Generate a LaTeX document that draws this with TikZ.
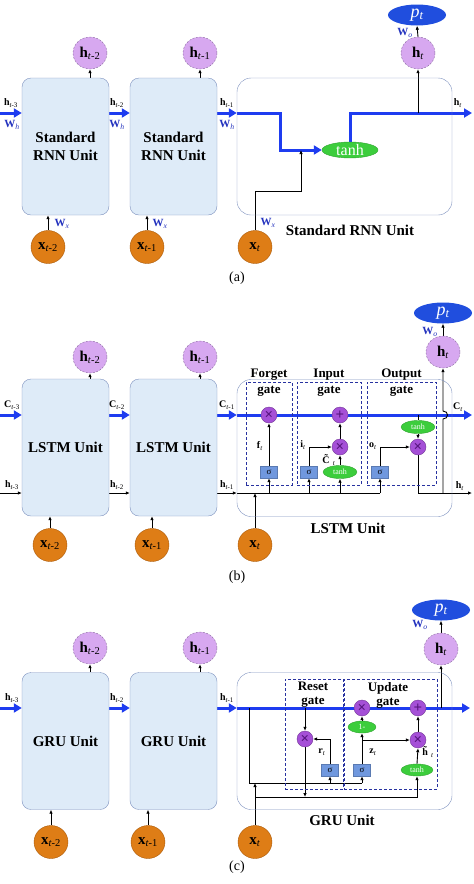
\documentclass[tikz,border=0pt]{standalone}
\usepackage{fontspec}
\setmainfont{Liberation Serif}
\usetikzlibrary{arrows.meta,shapes.geometric}
\definecolor{unitfill}{RGB}{222,235,248}
\definecolor{unitline}{RGB}{125,145,190}
\definecolor{hfill}{RGB}{215,168,240}
\definecolor{hline}{RGB}{140,110,160}
\definecolor{xfill}{RGB}{222,125,22}
\definecolor{xline}{RGB}{170,90,10}
\definecolor{pfill}{RGB}{32,78,222}
\definecolor{flow}{RGB}{30,60,240}
\definecolor{opfill}{RGB}{165,80,215}
\definecolor{opink}{RGB}{85,20,125}
\definecolor{gateline}{RGB}{40,50,160}
\definecolor{sigfill}{RGB}{112,152,222}
\definecolor{tanhfill}{RGB}{60,205,60}
\definecolor{wblue}{RGB}{35,50,190}
\pgfdeclarelayer{bg}
\pgfsetlayers{bg,main}
\newcommand{\vt}[2]{\textbf{#1}\textsubscript{\textit{t}#2}}
\newcommand{\wt}[1]{\textbf{W}\textsubscript{\textit{#1}}}
\newcommand{\fs}[2]{\fontsize{#1}{#2}\selectfont}
\tikzset{
  unit/.style={draw=unitline, fill=unitfill, rounded corners=9pt, minimum width=87pt,
    minimum height=137pt, align=center, font=\fs{15}{18}\bfseries},
  bigunit/.style={draw=unitline, rounded corners=14pt, minimum width=215pt, minimum height=137pt},
  hcirc/.style={ellipse, draw=hline, dash pattern=on 2pt off 1.5pt, fill=hfill,
    minimum width=34pt, minimum height=32pt, inner sep=0pt, font=\fs{15}{15}},
  xcirc/.style={ellipse, draw=xline, fill=xfill, minimum width=34pt, minimum height=33pt,
    inner sep=0pt, font=\fs{15}{15}},
  pnode/.style={ellipse, fill=pfill, text=white, minimum width=58pt, minimum height=21pt,
    inner sep=0pt, font=\fs{18}{18}\itshape},
  op/.style={circle, fill=opfill, draw=opfill!70!black, minimum size=16pt, inner sep=0pt,
    text=opink, font=\fs{15}{15}\bfseries},
  sig/.style={fill=sigfill, draw=sigfill!80!black, minimum width=17pt, minimum height=12pt,
    inner sep=0pt, font=\fs{9}{9}},
  tanhs/.style={ellipse, fill=tanhfill, draw=tanhfill!80!black, text=white, minimum width=34pt,
    minimum height=13pt, inner sep=0pt, font=\fs{8}{8}},
  tanhbig/.style={tanhs, minimum width=56pt, minimum height=16pt, font=\fs{16}{16}},
  gatebox/.style={draw=gateline, dash pattern=on 3pt off 2pt, line width=0.9pt, inner sep=0pt},
  gtitle/.style={align=center, inner sep=0pt},
  lbl/.style={font=\fs{10}{10}, inner sep=0pt},
  wlbl/.style={font=\fs{11}{11}, text=wblue, inner sep=0pt},
  unitcap/.style={font=\fs{15}{15}\bfseries, inner sep=0pt},
  blueline/.style={flow, line width=3pt},
  bluearrow/.style={blueline, -{Triangle[length=8pt,width=9pt]}},
  thinline/.style={black, line width=0.9pt},
  thinarrow/.style={thinline, -{Latex[length=4pt,width=3.5pt]}}
}
\begin{document}
\begin{tikzpicture}[x=1pt, y=-1pt]
\useasboundingbox (0,0) rectangle (474,884);

% (a) standard RNN
\node[unit] (a1) at (65.5,146.5) {Standard\\RNN Unit};
\node[unit] (a2) at (173.5,146.5) {Standard\\RNN Unit};
\node[bigunit] (a3) at (344.5,146.5) {};
\node[hcirc] (ha1) at (90,53) {\vt{h}{-2}};
\node[hcirc] (ha2) at (200,53) {\vt{h}{-1}};
\node[hcirc] (hat) at (418,53) {\vt{h}{}};
\node[pnode] (pa) at (417,15) {p\textsubscript{t}};
\node[xcirc] (xa1) at (48,247) {\vt{x}{-2}};
\node[xcirc] (xa2) at (147,247) {\vt{x}{-1}};
\node[xcirc] (xat) at (255,247) {\vt{x}{}};
\node[tanhbig] (ta) at (350,150) {tanh};
\coordinate (ina) at (0,113);
\coordinate (outa) at (472,113);
\coordinate (ka) at (280,150);
\coordinate (ja) at (301,191);
\node[lbl] (la1) at (11,103) {\vt{h}{-3}};
\node[wlbl] (wa1) at (12,125) {\wt{h}};
\node[lbl] (la2) at (117,103) {\vt{h}{-2}};
\node[wlbl] (wa2) at (117,125) {\wt{h}};
\node[lbl] (la3) at (227,103) {\vt{h}{-1}};
\node[wlbl] (wa3) at (227,125) {\wt{h}};
\node[lbl] (la4) at (458,103) {\vt{h}{}};
\node[wlbl] (wa4) at (405,33) {\wt{o}};
\node[wlbl] (wxa1) at (62,224) {\wt{x}};
\node[wlbl] (wxa2) at (160,224) {\wt{x}};
\node[wlbl] (wxa3) at (268,223) {\wt{x}};
\node[unitcap] (capa) at (350,230) {Standard RNN Unit};
\node[font=\fs{14}{14}] (taga) at (237,278) {(a)};

% (b) LSTM
\node[unit] (b1) at (65.5,447.5) {LSTM Unit};
\node[unit] (b2) at (173.5,447.5) {LSTM Unit};
\node[bigunit] (b3) at (344.5,448) {};
\node[hcirc] (hb1) at (90,357) {\vt{h}{-2}};
\node[hcirc] (hb2) at (200,357) {\vt{h}{-1}};
\node[hcirc] (hbt) at (443,352) {\vt{h}{}};
\node[pnode] (pb) at (443,313) {p\textsubscript{t}};
\node[xcirc] (xb1) at (50,545) {\vt{x}{-2}};
\node[xcirc] (xb2) at (152,545) {\vt{x}{-1}};
\node[xcirc] (xbt) at (255,545) {\vt{x}{}};
\coordinate (cinb) at (0,415);
\coordinate (hinb) at (0,493);
\coordinate (outcb) at (472,415);
\coordinate (outhb) at (472,493);
\node[gatebox, minimum width=46pt, minimum height=103pt] (fg) at (269,433.5) {};
\node[gatebox, minimum width=64pt, minimum height=103pt] (ig) at (329,433.5) {};
\node[gatebox, minimum width=69pt, minimum height=103pt] (og) at (401.5,433.5) {};
\node[gtitle, font=\fs{13}{16}\bfseries] (ftl) at (269,382.5) {Forget\\gate};
\node[gtitle, font=\fs{13}{16}\bfseries] (itl) at (329,382.5) {Input\\gate};
\node[gtitle, font=\fs{13}{16}\bfseries] (otl) at (401.5,382.5) {Output\\gate};
\node[op] (fx) at (269,415) {×};
\node[op] (ip) at (340,415) {+};
\node[op] (ix) at (340,447) {×};
\node[op] (ox) at (418,447) {×};
\node[sig] (sf) at (269,472) {σ};
\node[sig] (si) at (309,472) {σ};
\node[sig] (so) at (380,472) {σ};
\node[tanhs] (tb1) at (340,472) {tanh};
\node[tanhs] (tb2) at (418,427) {tanh};
\node[lbl] (lf) at (260,446) {\vt{f}{}};
\node[lbl] (li) at (303,445) {\vt{i}{}};
\node[lbl] (lc) at (329,460) {\textbf{\~{C}}\textsubscript{\textit{t}}};
\node[lbl] (lo) at (373,446) {\vt{o}{}};
\node[lbl] (lb1) at (12,405) {\vt{C}{-3}};
\node[lbl] (lb2) at (12,485) {\vt{h}{-3}};
\node[lbl] (lb3) at (117,405) {\vt{C}{-2}};
\node[lbl] (lb4) at (117,485) {\vt{h}{-2}};
\node[lbl] (lb5) at (227,405) {\vt{C}{-1}};
\node[lbl] (lb6) at (227,485) {\vt{h}{-1}};
\node[lbl] (lb7) at (458,407) {\vt{C}{}};
\node[lbl] (lb8) at (460,486) {\vt{h}{}};
\node[wlbl] (wb) at (430,332) {\wt{o}};
\node[unitcap] (capb) at (348,528) {LSTM Unit};
\node[font=\fs{14}{14}] (tagb) at (237,577) {(b)};

% (c) GRU
\node[unit] (c1) at (65.5,741) {GRU Unit};
\node[unit] (c2) at (173.5,741) {GRU Unit};
\node[bigunit] (c3) at (344.5,741) {};
\node[hcirc] (hc1) at (90,648) {\vt{h}{-2}};
\node[hcirc] (hc2) at (200,648) {\vt{h}{-1}};
\node[hcirc] (hct) at (441,649) {\vt{h}{}};
\node[pnode] (pc) at (441,610) {p\textsubscript{t}};
\node[xcirc] (xc1) at (51,842) {\vt{x}{-2}};
\node[xcirc] (xc2) at (148,842) {\vt{x}{-1}};
\node[xcirc] (xct) at (255,842) {\vt{x}{}};
\coordinate (hinc) at (0,708);
\coordinate (outc) at (470,708);
\coordinate (gl) at (249,708);
\coordinate (gy) at (249,783);
\coordinate (gx) at (255,797);
\node[gatebox, minimum width=58pt, minimum height=110pt] (rg) at (314,734) {};
\node[gatebox, minimum width=93pt, minimum height=110pt] (ug) at (390.5,734) {};
\node[gtitle, font=\fs{13}{14}\bfseries] (rtl) at (313,695) {Reset\\gate};
\node[gtitle, font=\fs{13}{14}\bfseries] (utl) at (388,695) {Update\\gate};
\node[op] (rx) at (305,739) {×};
\node[op] (ux) at (362,708) {×};
\node[op] (up) at (418,708) {+};
\node[op] (hx) at (418,740) {×};
\node[tanhs, minimum width=28pt, minimum height=12pt] (one) at (362,727) {1-};
\node[sig] (sr) at (330,770) {σ};
\node[sig] (sz) at (362,770) {σ};
\node[tanhs, minimum width=32pt, minimum height=12pt] (tc) at (417,770) {tanh};
\node[lbl] (lr) at (322,752) {\vt{r}{}};
\node[lbl] (lz) at (373,752) {\vt{z}{}};
\node[lbl] (lh) at (428,752) {\textbf{\~{h}}\textsubscript{\textit{t}}};
\node[lbl] (lc1) at (12,698) {\vt{h}{-3}};
\node[lbl] (lc2) at (117,698) {\vt{h}{-2}};
\node[lbl] (lc3) at (227,698) {\vt{h}{-1}};
\node[wlbl] (wc) at (420,625) {\wt{o}};
\node[unitcap] (capc) at (342,820) {GRU Unit};
\node[font=\fs{14}{14}] (tagc) at (237,867) {(c)};

\begin{pgfonlayer}{bg}
% connectors (a)
\draw[bluearrow] (ina) -- (ina -| a1.west);
\draw[bluearrow] (ina -| a1.east) -- (ina -| a2.west);
\draw[bluearrow] (ina -| a2.east) -- (ina -| a3.west);
\draw[bluearrow] (ina -| a3.west) -| (ka) -- (ta.west);
\draw[bluearrow] (ta.north) |- (outa);
\draw[thinarrow] (hat.south |- outa) -- (hat.south);
\draw[thinarrow] (hat.north) -- (pa.south);
\draw[thinarrow] (xat.north) |- (ja) -- (ja |- ta.west);
\foreach \u/\h/\x in {a1/ha1/xa1, a2/ha2/xa2, b1/hb1/xb1, b2/hb2/xb2, c1/hc1/xc1, c2/hc2/xc2} {
  \draw[thinarrow] (\h.south |- \u.north) -- (\h.south);
  \draw[thinarrow] (\x.north) -- (\x.north |- \u.south);
}
% connectors (b)
\draw[bluearrow] (cinb) -- (cinb -| b1.west);
\draw[bluearrow] (cinb -| b1.east) -- (cinb -| b2.west);
\draw[bluearrow] (cinb -| b2.east) -- (cinb -| b3.west);
\draw[thinarrow] (hinb) -- (hinb -| b1.west);
\draw[thinarrow] (hinb -| b1.east) -- (hinb -| b2.west);
\draw[thinarrow] (hinb -| b2.east) -- (hinb -| b3.west);
\draw[bluearrow] (cinb -| b3.west) -- (outcb);
\draw[thinline] (hinb -| b3.west) -- (hinb -| so.south);
\foreach \n in {sf,si,tb1,so}
  \draw[thinarrow] (hinb -| \n.south) -- (\n.south);
\draw[thinarrow] (xbt.north) -- (xbt.north |- hinb);
\draw[thinarrow] (sf.north) -- (fx.south);
\draw[thinarrow] (si.north) |- (ix.west);
\draw[thinarrow] (tb1.north) -- (ix.south);
\draw[thinarrow] (ix.north) -- (ip.south);
\draw[thinarrow] (so.north) |- (ox.west);
\draw[thinline] (tb2.north |- cinb) -- (tb2.north);
\draw[thinarrow] (tb2.south) -- (ox.north);
\draw[thinarrow] (ox.south) |- (outhb);
\draw[thinarrow] (hbt.south |- outhb) -- ++(0,-74)
  .. controls +(6,0) and +(6,0) .. ++(0,-8) -- (hbt.south);
\draw[thinarrow] (hbt.north) -- (pb.south);
% connectors (c)
\draw[bluearrow] (hinc) -- (hinc -| c1.west);
\draw[bluearrow] (hinc -| c1.east) -- (hinc -| c2.west);
\draw[bluearrow] (hinc -| c2.east) -- (hinc -| c3.west);
\draw[bluearrow] (hinc -| c3.west) -- (outc);
\draw[thinline] (gl) -- (gy) -- (gy -| sz.south);
\draw[thinarrow] (gy -| sr.south) -- (sr.south);
\draw[thinarrow] (gy -| sz.south) -- (sz.south);
\draw[thinarrow] (xct.north) -- (xct.north |- gy);
\draw[thinarrow] (gx) -| (tc.south);
\draw[thinarrow] (rx.north |- hinc) -- (rx.north);
\draw[thinarrow] (sr.north) |- (rx.east);
\draw[thinarrow] (rx.south) -- (rx.south |- gx);
\draw[thinarrow] (sz.north) -- (one.south);
\draw[thinarrow] (sz.north |- hx.west) -- (hx.west);
\draw[thinarrow] (one.north) -- (ux.south);
\draw[thinarrow] (tc.north) -- (hx.south);
\draw[thinarrow] (hx.north) -- (up.south);
\draw[thinarrow] (hct.south |- hinc) -- (hct.south);
\draw[thinarrow] (hct.north) -- (pc.south);
\end{pgfonlayer}
\end{tikzpicture}
\end{document}
